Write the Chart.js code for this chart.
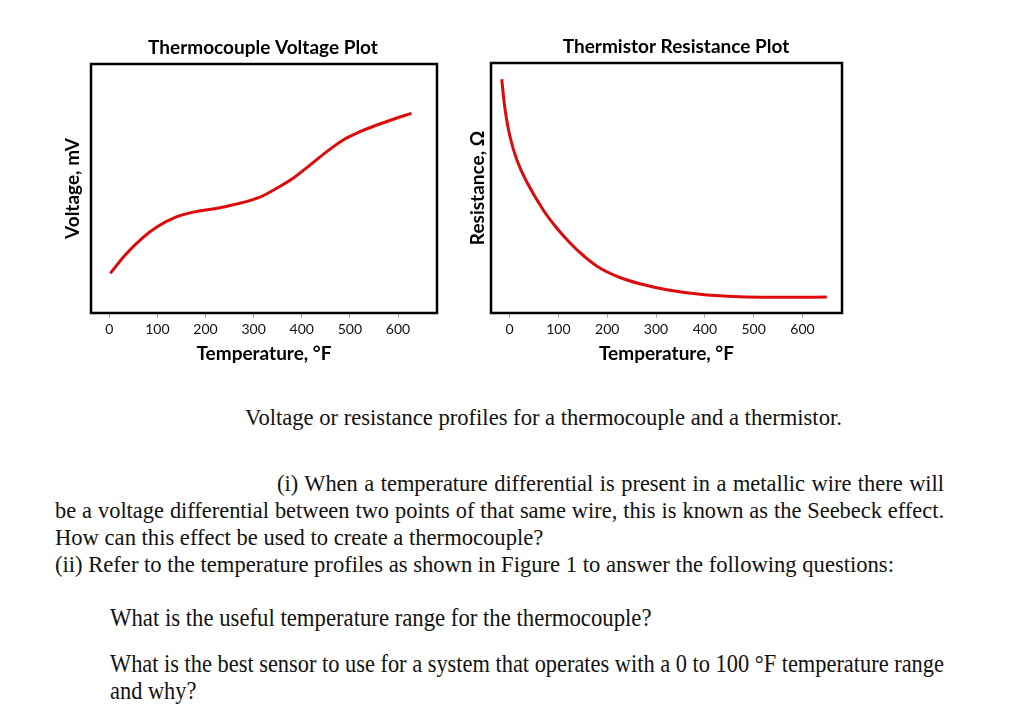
<!DOCTYPE html>
<html>
<head>
<meta charset="utf-8">
<script src="https://cdn.jsdelivr.net/npm/chart.js@4.4.1/dist/chart.umd.min.js"></script>
<style>
  html, body { margin:0; padding:0; background:#fff; }
  body { width:1024px; height:721px; position:relative; overflow:hidden; }
  .plot { position:absolute; }
  .txt { position:absolute; font-family:"Liberation Serif","Times New Roman",serif; font-size:22.6px;
         line-height:24px; color:#111; white-space:nowrap; }
  .just { text-align:justify; text-align-last:justify; font-size:22.4px; }
  .cond { transform-origin:0 50%; font-size:25.5px; }
</style>
</head>
<body>
<div class="plot" id="left" style="left:60px; top:28px; width:406px; height:350px;"><canvas id="c1"></canvas></div>
<div class="plot" id="right" style="left:460px; top:28px; width:432px; height:350px;"><canvas id="c2"></canvas></div>

<div class="txt" style="left:245px; top:406px;">Voltage or resistance profiles for a thermocouple and a thermistor.</div>
<div class="txt just" style="left:277px; top:472px; width:667px;">(i) When a temperature differential is present in a metallic wire there will</div>
<div class="txt just" style="left:55px; top:499px; width:889px;">be a voltage differential between two points of that same wire, this is known as the Seebeck effect.</div>
<div class="txt" style="left:55px; top:526px;">How can this effect be used to create a thermocouple?</div>
<div class="txt" style="left:55px; top:553px;">(ii) Refer to the temperature profiles as shown in Figure 1 to answer the following questions:</div>
<div class="txt cond" data-w="542" style="left:110px; top:606px;">What is the useful temperature range for the thermocouple?</div>
<div class="txt cond" data-w="834" id="q2" style="left:110px; top:652px;">What is the best sensor to use for a system that operates with a 0 to 100 °F temperature range</div>
<div class="txt cond" data-same="q2" style="left:110px; top:679px;">and why?</div>

<script>
// --- data (temperature in °F, y in arbitrary units 0-10) ---
const tempTicks = [0, 100, 200, 300, 400, 500, 600];

const voltTemp = [2, 33, 68, 102, 137, 172, 241, 310, 348, 382, 417, 452, 486, 521, 556, 590, 628];
const voltVals = [1.59, 2.33, 3.0, 3.49, 3.84, 4.04, 4.27, 4.63, 5.01, 5.41, 5.94, 6.48, 6.95, 7.28, 7.55, 7.78, 8.02];

const resTemp = [-16, -9, 1, 15, 35, 69, 97, 124, 151, 185, 226, 267, 322, 390, 458, 527, 595, 650];
const resVals = [9.35, 8.12, 7.05, 6.12, 5.25, 4.12, 3.39, 2.8, 2.3, 1.8, 1.42, 1.17, 0.93, 0.75, 0.66, 0.63, 0.63, 0.64];

const RED = '#dd0a0a';
const FONT = 'Lato, "Open Sans", sans-serif';

// box round the plot area
const frame = {
  id: 'frame',
  afterDraw(chart) {
    const { ctx, chartArea: a } = chart;
    ctx.save();
    ctx.strokeStyle = '#000';
    ctx.lineWidth = 2.5;
    ctx.strokeRect(a.left, a.top, a.right - a.left, a.bottom - a.top);
    ctx.restore();
  }
};

function makePlot(canvasId, title, yTitle, xs, ys, cfg) {
  const pts = xs.map((x, i) => ({ x, y: ys[i] }));
  return new Chart(document.getElementById(canvasId), {
    type: 'line',
    data: {
      datasets: [{
        data: pts, borderColor: RED, borderWidth: 3, pointRadius: 0,
        cubicInterpolationMode: cfg.mode, tension: 0.4, fill: false
      }]
    },
    options: {
      responsive: true, maintainAspectRatio: false, animation: false,
      layout: { padding: 0 },
      plugins: {
        legend: { display: false },
        tooltip: { enabled: false },
        title: {
          display: true, text: title, color: '#000',
          font: { family: FONT, size: 19, weight: 'bold' },
          padding: { top: cfg.titleTop, bottom: cfg.titleBottom }
        }
      },
      scales: {
        x: {
          type: 'linear', min: -38, max: 681,
          afterBuildTicks: s => { s.ticks = tempTicks.map(v => ({ value: v })); },
          afterFit: s => { s.height = 65; },
          grid: { display: true, drawOnChartArea: false, drawTicks: true, tickLength: 5, color: '#aaa' },
          border: { display: false },
          ticks: { color: '#111', font: { family: FONT, size: 14 }, padding: 3, maxRotation: 0 },
          title: { display: true, text: 'Temperature, °F', color: '#000',
                   font: { family: FONT, size: 19, weight: 'bold' }, padding: { top: 0, bottom: 12.6 } }
        },
        y: {
          min: 0, max: 10,
          afterFit: s => { s.width = 31; },
          grid: { display: false },
          border: { display: false },
          ticks: { display: false },
          title: { display: true, text: yTitle, color: '#000',
                   font: { family: FONT, size: 19, weight: 'bold' }, padding: { top: cfg.yPad, bottom: 0 } }
        },
        spacer: {
          type: 'linear', position: 'right', axis: 'y',
          afterFit: s => { s.width = cfg.spacer; },
          grid: { display: false }, border: { display: false }, ticks: { display: false }
        }
      }
    },
    plugins: [frame]
  });
}

makePlot('c1', 'Thermocouple Voltage Plot', 'Voltage, mV', voltTemp, voltVals,
  { titleTop: 8.6, titleBottom: 4.6, yPad: 1.6, spacer: 29, mode: 'monotone' });
makePlot('c2', 'Thermistor Resistance Plot', 'Resistance, Ω', resTemp, resVals,
  { titleTop: 7.6, titleBottom: 4.6, yPad: 6.6, spacer: 50, mode: 'default' });

// condensed question lines: squeeze to the width they have in the picture
const scales = {};
document.querySelectorAll('.cond[data-w]').forEach(el => {
  const k = +el.dataset.w / el.scrollWidth;
  el.style.transform = `scaleX(${k})`;
  if (el.id) scales[el.id] = k;
});
document.querySelectorAll('.cond[data-same]').forEach(el => {
  el.style.transform = `scaleX(${scales[el.dataset.same]})`;
});
</script>
</body>
</html>
